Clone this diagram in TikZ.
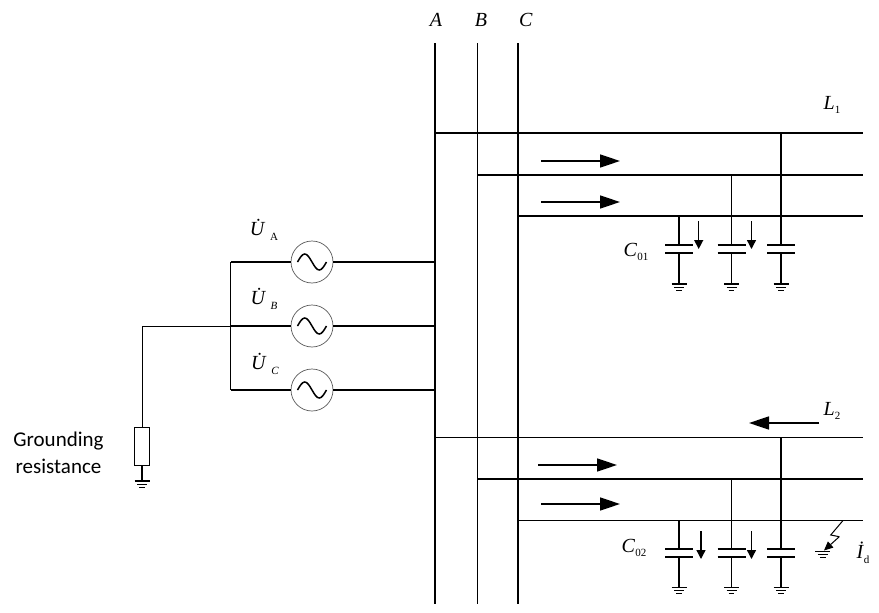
\documentclass[tikz,border=0pt]{standalone}
\usepackage{fontspec}
\usepackage{amssymb,amsmath}
\usetikzlibrary{arrows.meta}
\setmainfont{Liberation Serif}
\newfontfamily\calibrifont{Carlito}
\newcommand{\LowSub}[1]{\raisebox{-0.5ex}{\fontsize{11}{11}\selectfont #1}}
\newcommand{\DotLetter}[1]{\textit{\.{#1}}}

\begin{document}
\begin{tikzpicture}[x=1pt,y=-1pt]
  \tikzset{BusStyle/.style = {
    draw          = black,
    line width    = 1.6pt,
    line cap      = butt
    }
  }
  \tikzset{ThinStyle/.style = {
    draw          = black,
    line width    = 1pt
    }
  }
  \tikzset{SourceStyle/.style = {
    shape         = circle,
    draw          = black!65,
    fill          = white,
    line width    = 0.7pt,
    minimum size  = 42pt,
    inner sep     = 0pt,
    outer sep     = 0pt,
    path picture  = {
      \draw[black, line width=1.5pt] ([xshift=-14.5pt]path picture bounding box.center)
        sin ++(7.25,-8) cos ++(7.25,8) sin ++(7.25,8) cos ++(7.25,-8);
      }
    }
  }
  \tikzset{ResistorStyle/.style = {
    shape         = rectangle,
    draw          = black,
    fill          = white,
    line width    = 1pt,
    minimum width = 14.5pt,
    minimum height= 38pt,
    inner sep     = 0pt,
    outer sep     = 0pt
    }
  }
  \tikzset{LabelStyle/.style = {
    text          = black,
    inner sep     = 0pt,
    outer sep     = 0pt,
    font          = \fontsize{20}{20}\selectfont
    }
  }
  \tikzset{FlowStyle/.style = {
    draw          = black,
    line width    = 1.6pt,
    -{Triangle[length=20pt,width=13pt]}
    }
  }
  \tikzset{CurrentStyle/.style = {
    draw          = black,
    line width    = 1.4pt,
    -{Triangle[length=9pt,width=9pt]}
    }
  }
  \tikzset{CapacitorPic/.pic = {
    \coordinate (-top) at (0,0);
    \coordinate (-bot) at (0,8);
    \draw[black, line width=1.6pt] (-14,0) -- (14,0);
    \draw[black, line width=1.6pt] (-14,8) -- (14,8);
    }
  }
  \tikzset{GroundPic/.pic = {
    \coordinate (-top) at (0,0);
    \draw[black, line width=1.1pt] (-7.5,0) -- (7.5,0);
    \draw[black, line width=1.1pt] (-5,3.4) -- (5,3.4);
    \draw[black, line width=1.1pt] (-2.8,6.4) -- (2.8,6.4);
    }
  }

	% buses
	\coordinate (A0) at (435, 43);
	\coordinate (B0) at (477.5, 43);
	\coordinate (C0) at (518, 43);
	\coordinate (A9) at (435, 604);
	\coordinate (B9) at (477.5, 604);
	\coordinate (C9) at (518, 604);
	\node[LabelStyle](LA) at (436, 20) {\textit{A}};
	\node[LabelStyle](LB) at (481, 20) {\textit{B}};
	\node[LabelStyle](LC) at (526, 20) {\textit{C}};
	\draw[BusStyle](A0) -- (A9);
	\draw[BusStyle](B0) -- (B9);
	\draw[BusStyle](C0) -- (C9);

	% feeders
	\coordinate (A1) at (435, 133);
	\coordinate (B1) at (477.5, 175);
	\coordinate (C1) at (518, 216);
	\coordinate (E1) at (863, 133);
	\coordinate (F1) at (863, 175);
	\coordinate (G1) at (863, 216);
	\coordinate (A2) at (435, 437.5);
	\coordinate (B2) at (477.5, 479);
	\coordinate (C2) at (518, 520.5);
	\coordinate (E2) at (863, 437.5);
	\coordinate (F2) at (863, 479);
	\coordinate (G2) at (863, 520.5);
	\draw[BusStyle](A1) -- (E1);
	\draw[BusStyle](B1) -- (F1);
	\draw[BusStyle](C1) -- (G1);
	\draw[BusStyle](A2) -- (E2);
	\draw[BusStyle](B2) -- (F2);
	\draw[BusStyle](C2) -- (G2);
	\node[LabelStyle](L1) at (832, 105) {\textit{L}\LowSub{1}};
	\node[LabelStyle](L2) at (832, 411) {\textit{L}\LowSub{2}};

	% flow arrows
	\coordinate (P1) at (541, 161);
	\coordinate (Q1) at (620, 161);
	\coordinate (P2) at (541, 202);
	\coordinate (Q2) at (620, 202);
	\coordinate (P3) at (538, 465);
	\coordinate (Q3) at (617, 465);
	\coordinate (P4) at (541, 504);
	\coordinate (Q4) at (620, 504);
	\coordinate (P5) at (819, 423);
	\coordinate (Q5) at (749, 423);
	\draw[FlowStyle](P1) -- (Q1);
	\draw[FlowStyle](P2) -- (Q2);
	\draw[FlowStyle](P3) -- (Q3);
	\draw[FlowStyle](P4) -- (Q4);
	\draw[FlowStyle](P5) -- (Q5);

	% capacitors of L1
	\coordinate (T1) at (679, 216);
	\coordinate (T2) at (731.5, 175);
	\coordinate (T3) at (781, 133);
	\pic (K1) at (679, 245) {CapacitorPic};
	\pic (K2) at (731.5, 245) {CapacitorPic};
	\pic (K3) at (781, 245) {CapacitorPic};
	\pic (H1) at (679, 284) {GroundPic};
	\pic (H2) at (731.5, 284) {GroundPic};
	\pic (H3) at (781, 284) {GroundPic};
	\draw[BusStyle](T1) -- (K1-top);
	\draw[BusStyle](T2) -- (K2-top);
	\draw[BusStyle](T3) -- (K3-top);
	\draw[BusStyle](K1-bot) -- (H1-top);
	\draw[BusStyle](K2-bot) -- (H2-top);
	\draw[BusStyle](K3-bot) -- (H3-top);
	\node[LabelStyle](C01) at (636, 252) {\textit{C}\LowSub{01}};
	\coordinate (I1) at (698.7, 221);
	\coordinate (J1) at (698.7, 249);
	\coordinate (I2) at (751.5, 221);
	\coordinate (J2) at (751.5, 249);
	\draw[CurrentStyle](I1) -- (J1);
	\draw[CurrentStyle](I2) -- (J2);

	% capacitors of L2
	\coordinate (T4) at (679, 520.5);
	\coordinate (T5) at (731.5, 479);
	\coordinate (T6) at (781, 437.5);
	\pic (K4) at (679, 549) {CapacitorPic};
	\pic (K5) at (731.5, 549) {CapacitorPic};
	\pic (K6) at (781, 549) {CapacitorPic};
	\pic (H4) at (679, 587.5) {GroundPic};
	\pic (H5) at (731.5, 587.5) {GroundPic};
	\pic (H6) at (781, 587.5) {GroundPic};
	\draw[BusStyle](T4) -- (K4-top);
	\draw[BusStyle](T5) -- (K5-top);
	\draw[BusStyle](T6) -- (K6-top);
	\draw[BusStyle](K4-bot) -- (H4-top);
	\draw[BusStyle](K5-bot) -- (H5-top);
	\draw[BusStyle](K6-bot) -- (H6-top);
	\node[LabelStyle](C02) at (634, 548) {\textit{C}\LowSub{02}};
	\coordinate (I3) at (701, 531);
	\coordinate (J3) at (701, 559);
	\coordinate (I4) at (751.5, 531);
	\coordinate (J4) at (751.5, 559);
	\draw[CurrentStyle](I3) -- (J3);
	\draw[CurrentStyle](I4) -- (J4);

	% fault
	\coordinate (X0) at (843, 520.5);
	\coordinate (X1) at (830.7, 535);
	\coordinate (X2) at (839.3, 536.7);
	\coordinate (X3) at (824, 550.5);
	\pic (H7) at (822.7, 551.5) {GroundPic};
	\draw[ThinStyle](X0) -- (X1) -- (X2);
	\draw[ThinStyle, -{Triangle[length=9pt,width=8pt]}](X2) -- (X3);
	\node[LabelStyle](Id) at (863, 553) {\DotLetter{I}\LowSub{d}};

	% sources
	\node[SourceStyle](S1) at (312, 262) {};
	\node[SourceStyle](S2) at (312, 326) {};
	\node[SourceStyle](S3) at (312, 390) {};
	\coordinate (W1) at (230.5, 262);
	\coordinate (W2) at (230.5, 326);
	\coordinate (W3) at (230.5, 390);
	\coordinate (Y1) at (435, 262);
	\coordinate (Y2) at (435, 326);
	\coordinate (Y3) at (435, 390);
	\draw[BusStyle](W1) -- (S1);
	\draw[BusStyle](W2) -- (S2);
	\draw[BusStyle](W3) -- (S3);
	\draw[BusStyle](S1) -- (Y1);
	\draw[BusStyle](S2) -- (Y2);
	\draw[BusStyle](S3) -- (Y3);
	\draw[BusStyle](W1) -- (W3);
	\node[LabelStyle](U1) at (264, 230) {\DotLetter{U}\LowSub{A}};
	\node[LabelStyle](U2) at (264, 299) {\DotLetter{U}\LowSub{\textit{B}}};
	\node[LabelStyle](U3) at (265, 364) {\DotLetter{U}\LowSub{\textit{C}}};

	% grounding resistance
	\node[ResistorStyle](R0) at (142, 446) {};
	\pic (H8) at (142, 481) {GroundPic};
	\draw[ThinStyle](W2) -| (R0.north);
	\draw[BusStyle](R0.south) -- (H8-top);
	\node[LabelStyle, font=\calibrifont\fontsize{21}{27}\selectfont, align=center](RT) at (58.5, 453) {Grounding\\resistance};

  \useasboundingbox (0,0) rectangle (879,613);
  \end{tikzpicture}
\end{document}
